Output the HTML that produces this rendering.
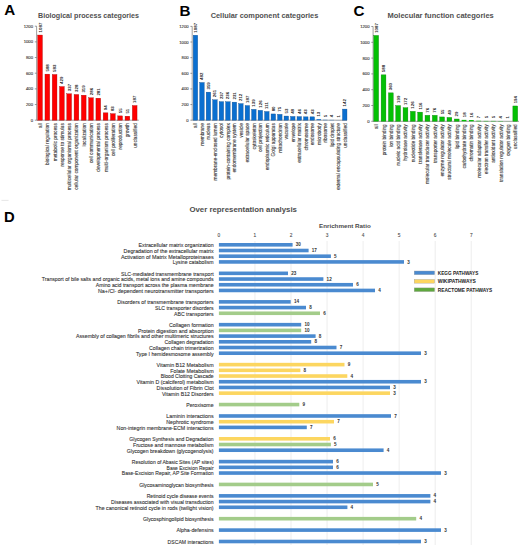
<!DOCTYPE html>
<html><head><meta charset="utf-8"><style>
html,body{margin:0;padding:0;background:#fff;width:523px;height:550px;overflow:hidden}
svg{display:block;font-family:"Liberation Sans", sans-serif}
</style></head><body>
<svg width="523" height="550" viewBox="0 0 523 550">
<rect width="523" height="550" fill="#fff"/>
<text x="4.20" y="15.40" font-size="15.2" fill="#000" font-weight="bold" text-anchor="start" >A</text>
<text x="38.00" y="18.20" font-size="8.0" fill="#505050" font-weight="bold" text-anchor="start" textLength="101.0" lengthAdjust="spacingAndGlyphs">Biological process categories</text>
<line x1="36.60" y1="26.20" x2="36.60" y2="120.20" stroke="#777" stroke-width="0.7"/>
<line x1="36.60" y1="120.20" x2="138.80" y2="120.20" stroke="#777" stroke-width="0.7"/>
<line x1="34.80" y1="120.20" x2="36.60" y2="120.20" stroke="#555" stroke-width="0.6"/>
<text x="33.00" y="121.70" font-size="4.2" fill="#333" font-weight="normal" text-anchor="end" stroke="#333" stroke-width="0.1">0</text>
<line x1="34.80" y1="104.53" x2="36.60" y2="104.53" stroke="#555" stroke-width="0.6"/>
<text x="33.00" y="106.03" font-size="4.2" fill="#333" font-weight="normal" text-anchor="end" stroke="#333" stroke-width="0.1">200</text>
<line x1="34.80" y1="88.87" x2="36.60" y2="88.87" stroke="#555" stroke-width="0.6"/>
<text x="33.00" y="90.37" font-size="4.2" fill="#333" font-weight="normal" text-anchor="end" stroke="#333" stroke-width="0.1">400</text>
<line x1="34.80" y1="73.20" x2="36.60" y2="73.20" stroke="#555" stroke-width="0.6"/>
<text x="33.00" y="74.70" font-size="4.2" fill="#333" font-weight="normal" text-anchor="end" stroke="#333" stroke-width="0.1">600</text>
<line x1="34.80" y1="57.53" x2="36.60" y2="57.53" stroke="#555" stroke-width="0.6"/>
<text x="33.00" y="59.03" font-size="4.2" fill="#333" font-weight="normal" text-anchor="end" stroke="#333" stroke-width="0.1">800</text>
<line x1="34.80" y1="41.87" x2="36.60" y2="41.87" stroke="#555" stroke-width="0.6"/>
<text x="33.00" y="43.37" font-size="4.2" fill="#333" font-weight="normal" text-anchor="end" stroke="#333" stroke-width="0.1">1000</text>
<line x1="34.80" y1="26.20" x2="36.60" y2="26.20" stroke="#555" stroke-width="0.6"/>
<text x="33.00" y="27.70" font-size="4.2" fill="#333" font-weight="normal" text-anchor="end" stroke="#333" stroke-width="0.1">1200</text>
<rect x="37.70" y="35.05" width="4.70" height="85.15" fill="#ff0000" stroke="#a00000" stroke-width="0.35"/>
<text transform="translate(41.55,32.45) rotate(-90)" font-size="4.4" font-weight="bold" fill="#222" text-anchor="start">1087</text>
<text transform="translate(42.05,123.20) rotate(-90)" font-size="4.73" fill="#3a3a3a" stroke="#3a3a3a" stroke-width="0.12" text-anchor="end">all</text>
<rect x="44.98" y="74.14" width="4.70" height="46.06" fill="#ff0000" stroke="#a00000" stroke-width="0.35"/>
<text transform="translate(48.83,71.54) rotate(-90)" font-size="4.4" font-weight="bold" fill="#222" text-anchor="start">588</text>
<text transform="translate(49.33,123.20) rotate(-90)" font-size="4.73" fill="#3a3a3a" stroke="#3a3a3a" stroke-width="0.12" text-anchor="end">biological regulation</text>
<rect x="52.26" y="74.53" width="4.70" height="45.67" fill="#ff0000" stroke="#a00000" stroke-width="0.35"/>
<text transform="translate(56.11,71.93) rotate(-90)" font-size="4.4" font-weight="bold" fill="#222" text-anchor="start">583</text>
<text transform="translate(56.61,123.20) rotate(-90)" font-size="4.73" fill="#3a3a3a" stroke="#3a3a3a" stroke-width="0.12" text-anchor="end">metabolic process</text>
<rect x="59.54" y="86.59" width="4.70" height="33.61" fill="#ff0000" stroke="#a00000" stroke-width="0.35"/>
<text transform="translate(63.39,84.00) rotate(-90)" font-size="4.4" font-weight="bold" fill="#222" text-anchor="start">429</text>
<text transform="translate(63.89,123.20) rotate(-90)" font-size="4.73" fill="#3a3a3a" stroke="#3a3a3a" stroke-width="0.12" text-anchor="end">response to stimulus</text>
<rect x="66.82" y="93.80" width="4.70" height="26.40" fill="#ff0000" stroke="#a00000" stroke-width="0.35"/>
<text transform="translate(70.67,91.20) rotate(-90)" font-size="4.4" font-weight="bold" fill="#222" text-anchor="start">337</text>
<text transform="translate(71.17,123.20) rotate(-90)" font-size="4.73" fill="#3a3a3a" stroke="#3a3a3a" stroke-width="0.12" text-anchor="end">multicellular organismal process</text>
<rect x="74.10" y="94.51" width="4.70" height="25.69" fill="#ff0000" stroke="#a00000" stroke-width="0.35"/>
<text transform="translate(77.95,91.91) rotate(-90)" font-size="4.4" font-weight="bold" fill="#222" text-anchor="start">328</text>
<text transform="translate(78.45,123.20) rotate(-90)" font-size="4.73" fill="#3a3a3a" stroke="#3a3a3a" stroke-width="0.12" text-anchor="end">cellular component organization</text>
<rect x="81.38" y="95.21" width="4.70" height="24.99" fill="#ff0000" stroke="#a00000" stroke-width="0.35"/>
<text transform="translate(85.23,92.61) rotate(-90)" font-size="4.4" font-weight="bold" fill="#222" text-anchor="start">319</text>
<text transform="translate(85.73,123.20) rotate(-90)" font-size="4.73" fill="#3a3a3a" stroke="#3a3a3a" stroke-width="0.12" text-anchor="end">localization</text>
<rect x="88.66" y="97.80" width="4.70" height="22.40" fill="#ff0000" stroke="#a00000" stroke-width="0.35"/>
<text transform="translate(92.51,95.20) rotate(-90)" font-size="4.4" font-weight="bold" fill="#222" text-anchor="start">286</text>
<text transform="translate(93.01,123.20) rotate(-90)" font-size="4.73" fill="#3a3a3a" stroke="#3a3a3a" stroke-width="0.12" text-anchor="end">cell communication</text>
<rect x="95.94" y="98.19" width="4.70" height="22.01" fill="#ff0000" stroke="#a00000" stroke-width="0.35"/>
<text transform="translate(99.79,95.59) rotate(-90)" font-size="4.4" font-weight="bold" fill="#222" text-anchor="start">281</text>
<text transform="translate(100.29,123.20) rotate(-90)" font-size="4.73" fill="#3a3a3a" stroke="#3a3a3a" stroke-width="0.12" text-anchor="end">developmental process</text>
<rect x="103.22" y="112.84" width="4.70" height="7.36" fill="#ff0000" stroke="#a00000" stroke-width="0.35"/>
<text transform="translate(107.07,110.24) rotate(-90)" font-size="4.4" font-weight="bold" fill="#222" text-anchor="start">94</text>
<text transform="translate(107.57,123.20) rotate(-90)" font-size="4.73" fill="#3a3a3a" stroke="#3a3a3a" stroke-width="0.12" text-anchor="end">multi-organism process</text>
<rect x="110.50" y="113.70" width="4.70" height="6.50" fill="#ff0000" stroke="#a00000" stroke-width="0.35"/>
<text transform="translate(114.35,111.10) rotate(-90)" font-size="4.4" font-weight="bold" fill="#222" text-anchor="start">83</text>
<text transform="translate(114.85,123.20) rotate(-90)" font-size="4.73" fill="#3a3a3a" stroke="#3a3a3a" stroke-width="0.12" text-anchor="end">cell proliferation</text>
<rect x="117.78" y="115.89" width="4.70" height="4.31" fill="#ff0000" stroke="#a00000" stroke-width="0.35"/>
<text transform="translate(121.63,113.29) rotate(-90)" font-size="4.4" font-weight="bold" fill="#222" text-anchor="start">55</text>
<text transform="translate(122.13,123.20) rotate(-90)" font-size="4.73" fill="#3a3a3a" stroke="#3a3a3a" stroke-width="0.12" text-anchor="end">reproduction</text>
<rect x="125.06" y="116.20" width="4.70" height="4.00" fill="#ff0000" stroke="#a00000" stroke-width="0.35"/>
<text transform="translate(128.91,113.61) rotate(-90)" font-size="4.4" font-weight="bold" fill="#222" text-anchor="start">51</text>
<text transform="translate(129.41,123.20) rotate(-90)" font-size="4.73" fill="#3a3a3a" stroke="#3a3a3a" stroke-width="0.12" text-anchor="end">growth</text>
<rect x="132.34" y="105.55" width="4.70" height="14.65" fill="#ff0000" stroke="#a00000" stroke-width="0.35"/>
<text transform="translate(136.19,102.95) rotate(-90)" font-size="4.4" font-weight="bold" fill="#222" text-anchor="start">187</text>
<text transform="translate(136.69,123.20) rotate(-90)" font-size="4.73" fill="#3a3a3a" stroke="#3a3a3a" stroke-width="0.12" text-anchor="end">unclassified</text>
<text x="179.60" y="15.60" font-size="15.2" fill="#000" font-weight="bold" text-anchor="start" >B</text>
<text x="210.70" y="18.20" font-size="8.0" fill="#505050" font-weight="bold" text-anchor="start" textLength="107.6" lengthAdjust="spacingAndGlyphs">Cellular component categories</text>
<line x1="192.20" y1="26.40" x2="192.20" y2="120.20" stroke="#777" stroke-width="0.7"/>
<line x1="192.20" y1="120.20" x2="347.00" y2="120.20" stroke="#777" stroke-width="0.7"/>
<line x1="190.40" y1="120.20" x2="192.20" y2="120.20" stroke="#555" stroke-width="0.6"/>
<text x="188.60" y="121.70" font-size="4.2" fill="#333" font-weight="normal" text-anchor="end" stroke="#333" stroke-width="0.1">0</text>
<line x1="190.40" y1="104.57" x2="192.20" y2="104.57" stroke="#555" stroke-width="0.6"/>
<text x="188.60" y="106.07" font-size="4.2" fill="#333" font-weight="normal" text-anchor="end" stroke="#333" stroke-width="0.1">200</text>
<line x1="190.40" y1="88.93" x2="192.20" y2="88.93" stroke="#555" stroke-width="0.6"/>
<text x="188.60" y="90.43" font-size="4.2" fill="#333" font-weight="normal" text-anchor="end" stroke="#333" stroke-width="0.1">400</text>
<line x1="190.40" y1="73.30" x2="192.20" y2="73.30" stroke="#555" stroke-width="0.6"/>
<text x="188.60" y="74.80" font-size="4.2" fill="#333" font-weight="normal" text-anchor="end" stroke="#333" stroke-width="0.1">600</text>
<line x1="190.40" y1="57.67" x2="192.20" y2="57.67" stroke="#555" stroke-width="0.6"/>
<text x="188.60" y="59.17" font-size="4.2" fill="#333" font-weight="normal" text-anchor="end" stroke="#333" stroke-width="0.1">800</text>
<line x1="190.40" y1="42.03" x2="192.20" y2="42.03" stroke="#555" stroke-width="0.6"/>
<text x="188.60" y="43.53" font-size="4.2" fill="#333" font-weight="normal" text-anchor="end" stroke="#333" stroke-width="0.1">1000</text>
<line x1="190.40" y1="26.40" x2="192.20" y2="26.40" stroke="#555" stroke-width="0.6"/>
<text x="188.60" y="27.90" font-size="4.2" fill="#333" font-weight="normal" text-anchor="end" stroke="#333" stroke-width="0.1">1200</text>
<rect x="193.20" y="35.23" width="4.50" height="84.97" fill="#0a6fd0" stroke="#0c4a8a" stroke-width="0.35"/>
<text transform="translate(196.95,32.63) rotate(-90)" font-size="4.4" font-weight="bold" fill="#222" text-anchor="start">1087</text>
<text transform="translate(197.45,123.20) rotate(-90)" font-size="4.73" fill="#3a3a3a" stroke="#3a3a3a" stroke-width="0.12" text-anchor="end">all</text>
<rect x="199.69" y="82.52" width="4.50" height="37.68" fill="#0a6fd0" stroke="#0c4a8a" stroke-width="0.35"/>
<text transform="translate(203.44,79.92) rotate(-90)" font-size="4.4" font-weight="bold" fill="#222" text-anchor="start">482</text>
<text transform="translate(203.94,123.20) rotate(-90)" font-size="4.73" fill="#3a3a3a" stroke="#3a3a3a" stroke-width="0.12" text-anchor="end">membrane</text>
<rect x="206.18" y="92.14" width="4.50" height="28.06" fill="#0a6fd0" stroke="#0c4a8a" stroke-width="0.35"/>
<text transform="translate(209.93,89.54) rotate(-90)" font-size="4.4" font-weight="bold" fill="#222" text-anchor="start">359</text>
<text transform="translate(210.43,123.20) rotate(-90)" font-size="4.73" fill="#3a3a3a" stroke="#3a3a3a" stroke-width="0.12" text-anchor="end">nucleus</text>
<rect x="212.67" y="99.80" width="4.50" height="20.40" fill="#0a6fd0" stroke="#0c4a8a" stroke-width="0.35"/>
<text transform="translate(216.42,97.20) rotate(-90)" font-size="4.4" font-weight="bold" fill="#222" text-anchor="start">261</text>
<text transform="translate(216.92,123.20) rotate(-90)" font-size="4.73" fill="#3a3a3a" stroke="#3a3a3a" stroke-width="0.12" text-anchor="end">membrane-enclosed lumen</text>
<rect x="219.16" y="101.67" width="4.50" height="18.53" fill="#0a6fd0" stroke="#0c4a8a" stroke-width="0.35"/>
<text transform="translate(222.91,99.07) rotate(-90)" font-size="4.4" font-weight="bold" fill="#222" text-anchor="start">237</text>
<text transform="translate(223.41,123.20) rotate(-90)" font-size="4.73" fill="#3a3a3a" stroke="#3a3a3a" stroke-width="0.12" text-anchor="end">cytosol</text>
<rect x="225.65" y="101.75" width="4.50" height="18.45" fill="#0a6fd0" stroke="#0c4a8a" stroke-width="0.35"/>
<text transform="translate(229.40,99.15) rotate(-90)" font-size="4.4" font-weight="bold" fill="#222" text-anchor="start">236</text>
<text transform="translate(229.90,123.20) rotate(-90)" font-size="4.73" fill="#3a3a3a" stroke="#3a3a3a" stroke-width="0.12" text-anchor="end">protein-containing complex</text>
<rect x="232.14" y="102.14" width="4.50" height="18.06" fill="#0a6fd0" stroke="#0c4a8a" stroke-width="0.35"/>
<text transform="translate(235.89,99.54) rotate(-90)" font-size="4.4" font-weight="bold" fill="#222" text-anchor="start">231</text>
<text transform="translate(236.39,123.20) rotate(-90)" font-size="4.73" fill="#3a3a3a" stroke="#3a3a3a" stroke-width="0.12" text-anchor="end">endomembrane system</text>
<rect x="238.63" y="103.63" width="4.50" height="16.57" fill="#0a6fd0" stroke="#0c4a8a" stroke-width="0.35"/>
<text transform="translate(242.38,101.03) rotate(-90)" font-size="4.4" font-weight="bold" fill="#222" text-anchor="start">212</text>
<text transform="translate(242.88,123.20) rotate(-90)" font-size="4.73" fill="#3a3a3a" stroke="#3a3a3a" stroke-width="0.12" text-anchor="end">vesicle</text>
<rect x="245.12" y="105.58" width="4.50" height="14.62" fill="#0a6fd0" stroke="#0c4a8a" stroke-width="0.35"/>
<text transform="translate(248.87,102.98) rotate(-90)" font-size="4.4" font-weight="bold" fill="#222" text-anchor="start">187</text>
<text transform="translate(249.37,123.20) rotate(-90)" font-size="4.73" fill="#3a3a3a" stroke="#3a3a3a" stroke-width="0.12" text-anchor="end">extracellular space</text>
<rect x="251.61" y="109.33" width="4.50" height="10.87" fill="#0a6fd0" stroke="#0c4a8a" stroke-width="0.35"/>
<text transform="translate(255.36,106.73) rotate(-90)" font-size="4.4" font-weight="bold" fill="#222" text-anchor="start">139</text>
<text transform="translate(255.86,123.20) rotate(-90)" font-size="4.73" fill="#3a3a3a" stroke="#3a3a3a" stroke-width="0.12" text-anchor="end">cytoskeleton</text>
<rect x="258.10" y="110.35" width="4.50" height="9.85" fill="#0a6fd0" stroke="#0c4a8a" stroke-width="0.35"/>
<text transform="translate(261.85,107.75) rotate(-90)" font-size="4.4" font-weight="bold" fill="#222" text-anchor="start">126</text>
<text transform="translate(262.35,123.20) rotate(-90)" font-size="4.73" fill="#3a3a3a" stroke="#3a3a3a" stroke-width="0.12" text-anchor="end">cell projection</text>
<rect x="264.59" y="111.52" width="4.50" height="8.68" fill="#0a6fd0" stroke="#0c4a8a" stroke-width="0.35"/>
<text transform="translate(268.34,108.92) rotate(-90)" font-size="4.4" font-weight="bold" fill="#222" text-anchor="start">111</text>
<text transform="translate(268.84,123.20) rotate(-90)" font-size="4.73" fill="#3a3a3a" stroke="#3a3a3a" stroke-width="0.12" text-anchor="end">endoplasmic reticulum</text>
<rect x="271.08" y="113.95" width="4.50" height="6.25" fill="#0a6fd0" stroke="#0c4a8a" stroke-width="0.35"/>
<text transform="translate(274.83,111.35) rotate(-90)" font-size="4.4" font-weight="bold" fill="#222" text-anchor="start">80</text>
<text transform="translate(275.33,123.20) rotate(-90)" font-size="4.73" fill="#3a3a3a" stroke="#3a3a3a" stroke-width="0.12" text-anchor="end">Golgi apparatus</text>
<rect x="277.57" y="114.34" width="4.50" height="5.86" fill="#0a6fd0" stroke="#0c4a8a" stroke-width="0.35"/>
<text transform="translate(281.32,111.74) rotate(-90)" font-size="4.4" font-weight="bold" fill="#222" text-anchor="start">75</text>
<text transform="translate(281.82,123.20) rotate(-90)" font-size="4.73" fill="#3a3a3a" stroke="#3a3a3a" stroke-width="0.12" text-anchor="end">mitochondrion</text>
<rect x="284.06" y="116.06" width="4.50" height="4.14" fill="#0a6fd0" stroke="#0c4a8a" stroke-width="0.35"/>
<text transform="translate(287.81,113.46) rotate(-90)" font-size="4.4" font-weight="bold" fill="#222" text-anchor="start">53</text>
<text transform="translate(288.31,123.20) rotate(-90)" font-size="4.73" fill="#3a3a3a" stroke="#3a3a3a" stroke-width="0.12" text-anchor="end">vacuole</text>
<rect x="290.55" y="116.45" width="4.50" height="3.75" fill="#0a6fd0" stroke="#0c4a8a" stroke-width="0.35"/>
<text transform="translate(294.30,113.85) rotate(-90)" font-size="4.4" font-weight="bold" fill="#222" text-anchor="start">48</text>
<text transform="translate(294.80,123.20) rotate(-90)" font-size="4.73" fill="#3a3a3a" stroke="#3a3a3a" stroke-width="0.12" text-anchor="end">envelope</text>
<rect x="297.04" y="116.60" width="4.50" height="3.60" fill="#0a6fd0" stroke="#0c4a8a" stroke-width="0.35"/>
<text transform="translate(300.79,114.00) rotate(-90)" font-size="4.4" font-weight="bold" fill="#222" text-anchor="start">46</text>
<text transform="translate(301.29,123.20) rotate(-90)" font-size="4.73" fill="#3a3a3a" stroke="#3a3a3a" stroke-width="0.12" text-anchor="end">extracellular matrix</text>
<rect x="303.53" y="116.84" width="4.50" height="3.36" fill="#0a6fd0" stroke="#0c4a8a" stroke-width="0.35"/>
<text transform="translate(307.28,114.24) rotate(-90)" font-size="4.4" font-weight="bold" fill="#222" text-anchor="start">43</text>
<text transform="translate(307.78,123.20) rotate(-90)" font-size="4.73" fill="#3a3a3a" stroke="#3a3a3a" stroke-width="0.12" text-anchor="end">chromosome</text>
<rect x="310.02" y="116.84" width="4.50" height="3.36" fill="#0a6fd0" stroke="#0c4a8a" stroke-width="0.35"/>
<text transform="translate(313.77,114.24) rotate(-90)" font-size="4.4" font-weight="bold" fill="#222" text-anchor="start">43</text>
<text transform="translate(314.27,123.20) rotate(-90)" font-size="4.73" fill="#3a3a3a" stroke="#3a3a3a" stroke-width="0.12" text-anchor="end">endosome</text>
<rect x="316.51" y="119.18" width="4.50" height="1.02" fill="#0a6fd0" stroke="#0c4a8a" stroke-width="0"/>
<text transform="translate(320.26,116.58) rotate(-90)" font-size="4.4" font-weight="bold" fill="#222" text-anchor="start">13</text>
<text transform="translate(320.76,123.20) rotate(-90)" font-size="4.73" fill="#3a3a3a" stroke="#3a3a3a" stroke-width="0.12" text-anchor="end">microbody</text>
<rect x="323.00" y="119.81" width="4.50" height="0.39" fill="#0a6fd0" stroke="#0c4a8a" stroke-width="0"/>
<text transform="translate(326.75,117.21) rotate(-90)" font-size="4.4" font-weight="bold" fill="#222" text-anchor="start">5</text>
<text transform="translate(327.25,123.20) rotate(-90)" font-size="4.73" fill="#3a3a3a" stroke="#3a3a3a" stroke-width="0.12" text-anchor="end">ribosome</text>
<rect x="329.49" y="119.89" width="4.50" height="0.31" fill="#0a6fd0" stroke="#0c4a8a" stroke-width="0"/>
<text transform="translate(333.24,117.29) rotate(-90)" font-size="4.4" font-weight="bold" fill="#222" text-anchor="start">4</text>
<text transform="translate(333.74,123.20) rotate(-90)" font-size="4.73" fill="#3a3a3a" stroke="#3a3a3a" stroke-width="0.12" text-anchor="end">lipid droplet</text>
<rect x="335.98" y="120.12" width="4.50" height="0.08" fill="#0a6fd0" stroke="#0c4a8a" stroke-width="0"/>
<text transform="translate(339.73,117.52) rotate(-90)" font-size="4.4" font-weight="bold" fill="#222" text-anchor="start">1</text>
<text transform="translate(340.23,123.20) rotate(-90)" font-size="4.73" fill="#3a3a3a" stroke="#3a3a3a" stroke-width="0.12" text-anchor="end">external encapsulating structure</text>
<rect x="342.47" y="109.10" width="4.50" height="11.10" fill="#0a6fd0" stroke="#0c4a8a" stroke-width="0.35"/>
<text transform="translate(346.22,106.50) rotate(-90)" font-size="4.4" font-weight="bold" fill="#222" text-anchor="start">142</text>
<text transform="translate(346.72,123.20) rotate(-90)" font-size="4.73" fill="#3a3a3a" stroke="#3a3a3a" stroke-width="0.12" text-anchor="end">unclassified</text>
<text x="353.40" y="16.00" font-size="15.2" fill="#000" font-weight="bold" text-anchor="start" >C</text>
<text x="387.50" y="18.20" font-size="8.0" fill="#505050" font-weight="bold" text-anchor="start" textLength="106.3" lengthAdjust="spacingAndGlyphs">Molecular function categories</text>
<line x1="373.10" y1="26.50" x2="373.10" y2="121.30" stroke="#777" stroke-width="0.7"/>
<line x1="373.10" y1="121.30" x2="519.00" y2="121.30" stroke="#777" stroke-width="0.7"/>
<line x1="371.30" y1="121.30" x2="373.10" y2="121.30" stroke="#555" stroke-width="0.6"/>
<text x="369.50" y="122.80" font-size="4.2" fill="#333" font-weight="normal" text-anchor="end" stroke="#333" stroke-width="0.1">0</text>
<line x1="371.30" y1="105.50" x2="373.10" y2="105.50" stroke="#555" stroke-width="0.6"/>
<text x="369.50" y="107.00" font-size="4.2" fill="#333" font-weight="normal" text-anchor="end" stroke="#333" stroke-width="0.1">200</text>
<line x1="371.30" y1="89.70" x2="373.10" y2="89.70" stroke="#555" stroke-width="0.6"/>
<text x="369.50" y="91.20" font-size="4.2" fill="#333" font-weight="normal" text-anchor="end" stroke="#333" stroke-width="0.1">400</text>
<line x1="371.30" y1="73.90" x2="373.10" y2="73.90" stroke="#555" stroke-width="0.6"/>
<text x="369.50" y="75.40" font-size="4.2" fill="#333" font-weight="normal" text-anchor="end" stroke="#333" stroke-width="0.1">600</text>
<line x1="371.30" y1="58.10" x2="373.10" y2="58.10" stroke="#555" stroke-width="0.6"/>
<text x="369.50" y="59.60" font-size="4.2" fill="#333" font-weight="normal" text-anchor="end" stroke="#333" stroke-width="0.1">800</text>
<line x1="371.30" y1="42.30" x2="373.10" y2="42.30" stroke="#555" stroke-width="0.6"/>
<text x="369.50" y="43.80" font-size="4.2" fill="#333" font-weight="normal" text-anchor="end" stroke="#333" stroke-width="0.1">1000</text>
<line x1="371.30" y1="26.50" x2="373.10" y2="26.50" stroke="#555" stroke-width="0.6"/>
<text x="369.50" y="28.00" font-size="4.2" fill="#333" font-weight="normal" text-anchor="end" stroke="#333" stroke-width="0.1">1200</text>
<rect x="373.80" y="35.43" width="4.80" height="85.87" fill="#04c004" stroke="#067a06" stroke-width="0.35"/>
<text transform="translate(377.70,32.83) rotate(-90)" font-size="4.4" font-weight="bold" fill="#222" text-anchor="start">1087</text>
<text transform="translate(378.20,124.30) rotate(-90)" font-size="4.73" fill="#3a3a3a" stroke="#3a3a3a" stroke-width="0.12" text-anchor="end">all</text>
<rect x="381.12" y="74.85" width="4.80" height="46.45" fill="#04c004" stroke="#067a06" stroke-width="0.35"/>
<text transform="translate(385.02,72.25) rotate(-90)" font-size="4.4" font-weight="bold" fill="#222" text-anchor="start">588</text>
<text transform="translate(385.52,124.30) rotate(-90)" font-size="4.73" fill="#3a3a3a" stroke="#3a3a3a" stroke-width="0.12" text-anchor="end">protein binding</text>
<rect x="388.44" y="92.86" width="4.80" height="28.44" fill="#04c004" stroke="#067a06" stroke-width="0.35"/>
<text transform="translate(392.34,90.26) rotate(-90)" font-size="4.4" font-weight="bold" fill="#222" text-anchor="start">360</text>
<text transform="translate(392.84,124.30) rotate(-90)" font-size="4.73" fill="#3a3a3a" stroke="#3a3a3a" stroke-width="0.12" text-anchor="end">ion binding</text>
<rect x="395.76" y="105.58" width="4.80" height="15.72" fill="#04c004" stroke="#067a06" stroke-width="0.35"/>
<text transform="translate(399.66,102.98) rotate(-90)" font-size="4.4" font-weight="bold" fill="#222" text-anchor="start">199</text>
<text transform="translate(400.16,124.30) rotate(-90)" font-size="4.73" fill="#3a3a3a" stroke="#3a3a3a" stroke-width="0.12" text-anchor="end">nucleic acid binding</text>
<rect x="403.08" y="107.71" width="4.80" height="13.59" fill="#04c004" stroke="#067a06" stroke-width="0.35"/>
<text transform="translate(406.98,105.11) rotate(-90)" font-size="4.4" font-weight="bold" fill="#222" text-anchor="start">172</text>
<text transform="translate(407.48,124.30) rotate(-90)" font-size="4.73" fill="#3a3a3a" stroke="#3a3a3a" stroke-width="0.12" text-anchor="end">hydrolase activity</text>
<rect x="410.40" y="111.35" width="4.80" height="9.95" fill="#04c004" stroke="#067a06" stroke-width="0.35"/>
<text transform="translate(414.30,108.75) rotate(-90)" font-size="4.4" font-weight="bold" fill="#222" text-anchor="start">126</text>
<text transform="translate(414.80,124.30) rotate(-90)" font-size="4.73" fill="#3a3a3a" stroke="#3a3a3a" stroke-width="0.12" text-anchor="end">nucleotide binding</text>
<rect x="417.72" y="112.14" width="4.80" height="9.16" fill="#04c004" stroke="#067a06" stroke-width="0.35"/>
<text transform="translate(421.62,109.54) rotate(-90)" font-size="4.4" font-weight="bold" fill="#222" text-anchor="start">116</text>
<text transform="translate(422.12,124.30) rotate(-90)" font-size="4.73" fill="#3a3a3a" stroke="#3a3a3a" stroke-width="0.12" text-anchor="end">transferase activity</text>
<rect x="425.04" y="115.30" width="4.80" height="6.00" fill="#04c004" stroke="#067a06" stroke-width="0.35"/>
<text transform="translate(428.94,112.70) rotate(-90)" font-size="4.4" font-weight="bold" fill="#222" text-anchor="start">76</text>
<text transform="translate(429.44,124.30) rotate(-90)" font-size="4.73" fill="#3a3a3a" stroke="#3a3a3a" stroke-width="0.12" text-anchor="end">molecular transducer activity</text>
<rect x="432.36" y="115.30" width="4.80" height="6.00" fill="#04c004" stroke="#067a06" stroke-width="0.35"/>
<text transform="translate(436.26,112.70) rotate(-90)" font-size="4.4" font-weight="bold" fill="#222" text-anchor="start">76</text>
<text transform="translate(436.76,124.30) rotate(-90)" font-size="4.73" fill="#3a3a3a" stroke="#3a3a3a" stroke-width="0.12" text-anchor="end">transporter activity</text>
<rect x="439.68" y="116.95" width="4.80" height="4.34" fill="#04c004" stroke="#067a06" stroke-width="0.35"/>
<text transform="translate(443.58,114.36) rotate(-90)" font-size="4.4" font-weight="bold" fill="#222" text-anchor="start">55</text>
<text transform="translate(444.08,124.30) rotate(-90)" font-size="4.73" fill="#3a3a3a" stroke="#3a3a3a" stroke-width="0.12" text-anchor="end">enzyme regulator activity</text>
<rect x="447.00" y="117.43" width="4.80" height="3.87" fill="#04c004" stroke="#067a06" stroke-width="0.35"/>
<text transform="translate(450.90,114.83) rotate(-90)" font-size="4.4" font-weight="bold" fill="#222" text-anchor="start">49</text>
<text transform="translate(451.40,124.30) rotate(-90)" font-size="4.73" fill="#3a3a3a" stroke="#3a3a3a" stroke-width="0.12" text-anchor="end">structural molecule activity</text>
<rect x="454.32" y="119.01" width="4.80" height="2.29" fill="#04c004" stroke="#067a06" stroke-width="0.35"/>
<text transform="translate(458.22,116.41) rotate(-90)" font-size="4.4" font-weight="bold" fill="#222" text-anchor="start">29</text>
<text transform="translate(458.72,124.30) rotate(-90)" font-size="4.73" fill="#3a3a3a" stroke="#3a3a3a" stroke-width="0.12" text-anchor="end">lipid binding</text>
<rect x="461.64" y="119.88" width="4.80" height="1.42" fill="#04c004" stroke="#067a06" stroke-width="0"/>
<text transform="translate(465.54,117.28) rotate(-90)" font-size="4.4" font-weight="bold" fill="#222" text-anchor="start">18</text>
<text transform="translate(466.04,124.30) rotate(-90)" font-size="4.73" fill="#3a3a3a" stroke="#3a3a3a" stroke-width="0.12" text-anchor="end">carbohydrate binding</text>
<rect x="468.96" y="120.04" width="4.80" height="1.26" fill="#04c004" stroke="#067a06" stroke-width="0"/>
<text transform="translate(472.86,117.44) rotate(-90)" font-size="4.4" font-weight="bold" fill="#222" text-anchor="start">16</text>
<text transform="translate(473.36,124.30) rotate(-90)" font-size="4.73" fill="#3a3a3a" stroke="#3a3a3a" stroke-width="0.12" text-anchor="end">chromatin binding</text>
<rect x="476.28" y="120.75" width="4.80" height="0.55" fill="#04c004" stroke="#067a06" stroke-width="0"/>
<text transform="translate(480.18,118.15) rotate(-90)" font-size="4.4" font-weight="bold" fill="#222" text-anchor="start">7</text>
<text transform="translate(480.68,124.30) rotate(-90)" font-size="4.73" fill="#3a3a3a" stroke="#3a3a3a" stroke-width="0.12" text-anchor="end">molecular adaptor activity</text>
<rect x="483.60" y="120.91" width="4.80" height="0.40" fill="#04c004" stroke="#067a06" stroke-width="0"/>
<text transform="translate(487.50,118.31) rotate(-90)" font-size="4.4" font-weight="bold" fill="#222" text-anchor="start">5</text>
<text transform="translate(488.00,124.30) rotate(-90)" font-size="4.73" fill="#3a3a3a" stroke="#3a3a3a" stroke-width="0.12" text-anchor="end">electron transfer activity</text>
<rect x="490.92" y="120.91" width="4.80" height="0.40" fill="#04c004" stroke="#067a06" stroke-width="0"/>
<text transform="translate(494.82,118.31) rotate(-90)" font-size="4.4" font-weight="bold" fill="#222" text-anchor="start">5</text>
<text transform="translate(495.32,124.30) rotate(-90)" font-size="4.73" fill="#3a3a3a" stroke="#3a3a3a" stroke-width="0.12" text-anchor="end">antioxidant activity</text>
<rect x="498.24" y="120.98" width="4.80" height="0.32" fill="#04c004" stroke="#067a06" stroke-width="0"/>
<text transform="translate(502.14,118.38) rotate(-90)" font-size="4.4" font-weight="bold" fill="#222" text-anchor="start">4</text>
<text transform="translate(502.64,124.30) rotate(-90)" font-size="4.73" fill="#3a3a3a" stroke="#3a3a3a" stroke-width="0.12" text-anchor="end">translation regulator activity</text>
<rect x="505.56" y="121.22" width="4.80" height="0.08" fill="#04c004" stroke="#067a06" stroke-width="0"/>
<text transform="translate(509.46,118.62) rotate(-90)" font-size="4.4" font-weight="bold" fill="#222" text-anchor="start">1</text>
<text transform="translate(509.96,124.30) rotate(-90)" font-size="4.73" fill="#3a3a3a" stroke="#3a3a3a" stroke-width="0.12" text-anchor="end">oxygen binding</text>
<rect x="512.88" y="105.97" width="4.80" height="15.33" fill="#04c004" stroke="#067a06" stroke-width="0.35"/>
<text transform="translate(516.78,103.37) rotate(-90)" font-size="4.4" font-weight="bold" fill="#222" text-anchor="start">194</text>
<text transform="translate(517.28,124.30) rotate(-90)" font-size="4.73" fill="#3a3a3a" stroke="#3a3a3a" stroke-width="0.12" text-anchor="end">unclassified</text>
<text x="4.00" y="222.20" font-size="14.8" fill="#000" font-weight="bold" text-anchor="start" >D</text>
<text x="189.40" y="211.90" font-size="7.6" fill="#4d4d4d" font-weight="bold" text-anchor="start" textLength="107.6" lengthAdjust="spacingAndGlyphs">Over representation analysis</text>
<text x="319.00" y="228.30" font-size="5.6" fill="#4a4a4a" font-weight="bold" text-anchor="start" textLength="51.7" lengthAdjust="spacingAndGlyphs">Enrichment Ratio</text>
<text x="218.90" y="237.00" font-size="4.8" fill="#505050" font-weight="normal" text-anchor="middle" stroke="#505050" stroke-width="0.1">0</text>
<text x="254.95" y="237.00" font-size="4.8" fill="#505050" font-weight="normal" text-anchor="middle" stroke="#505050" stroke-width="0.1">1</text>
<line x1="254.95" y1="241" x2="254.95" y2="545" stroke="#e0e0e0" stroke-width="0.6"/>
<text x="291.00" y="237.00" font-size="4.8" fill="#505050" font-weight="normal" text-anchor="middle" stroke="#505050" stroke-width="0.1">2</text>
<line x1="291.00" y1="241" x2="291.00" y2="545" stroke="#e0e0e0" stroke-width="0.6"/>
<text x="327.05" y="237.00" font-size="4.8" fill="#505050" font-weight="normal" text-anchor="middle" stroke="#505050" stroke-width="0.1">3</text>
<line x1="327.05" y1="241" x2="327.05" y2="545" stroke="#e0e0e0" stroke-width="0.6"/>
<text x="363.10" y="237.00" font-size="4.8" fill="#505050" font-weight="normal" text-anchor="middle" stroke="#505050" stroke-width="0.1">4</text>
<line x1="363.10" y1="241" x2="363.10" y2="545" stroke="#e0e0e0" stroke-width="0.6"/>
<text x="399.15" y="237.00" font-size="4.8" fill="#505050" font-weight="normal" text-anchor="middle" stroke="#505050" stroke-width="0.1">5</text>
<line x1="399.15" y1="241" x2="399.15" y2="545" stroke="#e0e0e0" stroke-width="0.6"/>
<text x="435.20" y="237.00" font-size="4.8" fill="#505050" font-weight="normal" text-anchor="middle" stroke="#505050" stroke-width="0.1">6</text>
<line x1="435.20" y1="241" x2="435.20" y2="545" stroke="#e0e0e0" stroke-width="0.6"/>
<text x="471.25" y="237.00" font-size="4.8" fill="#505050" font-weight="normal" text-anchor="middle" stroke="#505050" stroke-width="0.1">7</text>
<line x1="471.25" y1="241" x2="471.25" y2="545" stroke="#e0e0e0" stroke-width="0.6"/>
<rect x="218.90" y="243.00" width="73.70" height="3.6" fill="#4a8ad0"/>
<text x="213.60" y="247.15" font-size="5.4" fill="#333" font-weight="normal" text-anchor="end" textLength="75.1" lengthAdjust="spacingAndGlyphs" stroke="#333" stroke-width="0.1">Extracellular matrix organization</text>
<text x="295.80" y="246.40" font-size="4.6" fill="#333" font-weight="bold" text-anchor="start" >30</text>
<rect x="218.90" y="248.71" width="89.70" height="3.6" fill="#4a8ad0"/>
<text x="213.60" y="252.86" font-size="5.4" fill="#333" font-weight="normal" text-anchor="end" textLength="90.0" lengthAdjust="spacingAndGlyphs" stroke="#333" stroke-width="0.1">Degradation of the extracellular matrix</text>
<text x="311.80" y="252.11" font-size="4.6" fill="#333" font-weight="bold" text-anchor="start" >17</text>
<rect x="218.90" y="254.41" width="112.00" height="3.6" fill="#4a8ad0"/>
<text x="213.60" y="258.56" font-size="5.4" fill="#333" font-weight="normal" text-anchor="end" textLength="92.6" lengthAdjust="spacingAndGlyphs" stroke="#333" stroke-width="0.1">Activation of Matrix Metalloproteinases</text>
<text x="334.10" y="257.81" font-size="4.6" fill="#333" font-weight="bold" text-anchor="start" >5</text>
<rect x="218.90" y="260.12" width="185.10" height="3.6" fill="#4a8ad0"/>
<text x="213.60" y="264.27" font-size="5.4" fill="#333" font-weight="normal" text-anchor="end" textLength="40.8" lengthAdjust="spacingAndGlyphs" stroke="#333" stroke-width="0.1">Lysine catabolism</text>
<text x="407.20" y="263.52" font-size="4.6" fill="#333" font-weight="bold" text-anchor="start" >3</text>
<rect x="218.90" y="271.53" width="69.10" height="3.6" fill="#4a8ad0"/>
<text x="213.60" y="275.68" font-size="5.4" fill="#333" font-weight="normal" text-anchor="end" textLength="92.6" lengthAdjust="spacingAndGlyphs" stroke="#333" stroke-width="0.1">SLC-mediated transmembrane transport</text>
<text x="291.20" y="274.93" font-size="4.6" fill="#333" font-weight="bold" text-anchor="start" >23</text>
<rect x="218.90" y="277.24" width="104.50" height="3.6" fill="#4a8ad0"/>
<text x="213.60" y="281.39" font-size="5.4" fill="#333" font-weight="normal" text-anchor="end" textLength="171.8" lengthAdjust="spacingAndGlyphs" stroke="#333" stroke-width="0.1">Transport of bile salts and organic acids, metal ions and amine compounds</text>
<text x="326.60" y="280.64" font-size="4.6" fill="#333" font-weight="bold" text-anchor="start" >12</text>
<rect x="218.90" y="282.94" width="134.10" height="3.6" fill="#4a8ad0"/>
<text x="213.60" y="287.09" font-size="5.4" fill="#333" font-weight="normal" text-anchor="end" textLength="117.9" lengthAdjust="spacingAndGlyphs" stroke="#333" stroke-width="0.1">Amino acid transport across the plasma membrane</text>
<text x="356.20" y="286.34" font-size="4.6" fill="#333" font-weight="bold" text-anchor="start" >6</text>
<rect x="218.90" y="288.65" width="156.10" height="3.6" fill="#4a8ad0"/>
<text x="213.60" y="292.80" font-size="5.4" fill="#333" font-weight="normal" text-anchor="end" textLength="115.6" lengthAdjust="spacingAndGlyphs" stroke="#333" stroke-width="0.1">Na+/Cl- dependent neurotransmitter transporters</text>
<text x="378.20" y="292.05" font-size="4.6" fill="#333" font-weight="bold" text-anchor="start" >4</text>
<rect x="218.90" y="300.06" width="71.80" height="3.6" fill="#4a8ad0"/>
<text x="213.60" y="304.21" font-size="5.4" fill="#333" font-weight="normal" text-anchor="end" textLength="96.3" lengthAdjust="spacingAndGlyphs" stroke="#333" stroke-width="0.1">Disorders of transmembrane transporters</text>
<text x="293.90" y="303.46" font-size="4.6" fill="#333" font-weight="bold" text-anchor="start" >14</text>
<rect x="218.90" y="305.77" width="87.10" height="3.6" fill="#4a8ad0"/>
<text x="213.60" y="309.92" font-size="5.4" fill="#333" font-weight="normal" text-anchor="end" textLength="58.5" lengthAdjust="spacingAndGlyphs" stroke="#333" stroke-width="0.1">SLC transporter disorders</text>
<text x="309.20" y="309.17" font-size="4.6" fill="#333" font-weight="bold" text-anchor="start" >8</text>
<rect x="218.90" y="311.47" width="101.10" height="3.6" fill="#a3cc8a"/>
<text x="213.60" y="315.62" font-size="5.4" fill="#333" font-weight="normal" text-anchor="end" textLength="39.6" lengthAdjust="spacingAndGlyphs" stroke="#333" stroke-width="0.1">ABC transporters</text>
<text x="323.20" y="314.87" font-size="4.6" fill="#333" font-weight="bold" text-anchor="start" >6</text>
<rect x="218.90" y="322.88" width="82.30" height="3.6" fill="#4a8ad0"/>
<text x="213.60" y="327.03" font-size="5.4" fill="#333" font-weight="normal" text-anchor="end" textLength="44.6" lengthAdjust="spacingAndGlyphs" stroke="#333" stroke-width="0.1">Collagen formation</text>
<text x="304.40" y="326.28" font-size="4.6" fill="#333" font-weight="bold" text-anchor="start" >10</text>
<rect x="218.90" y="328.59" width="82.30" height="3.6" fill="#a3cc8a"/>
<text x="213.60" y="332.74" font-size="5.4" fill="#333" font-weight="normal" text-anchor="end" textLength="75.6" lengthAdjust="spacingAndGlyphs" stroke="#333" stroke-width="0.1">Protein digestion and absorption</text>
<text x="304.40" y="331.99" font-size="4.6" fill="#333" font-weight="bold" text-anchor="start" >10</text>
<rect x="218.90" y="334.30" width="96.70" height="3.6" fill="#4a8ad0"/>
<text x="213.60" y="338.45" font-size="5.4" fill="#333" font-weight="normal" text-anchor="end" textLength="137.7" lengthAdjust="spacingAndGlyphs" stroke="#333" stroke-width="0.1">Assembly of collagen fibrils and other multimeric structures</text>
<text x="318.80" y="337.70" font-size="4.6" fill="#333" font-weight="bold" text-anchor="start" >8</text>
<rect x="218.90" y="340.00" width="92.30" height="3.6" fill="#4a8ad0"/>
<text x="213.60" y="344.15" font-size="5.4" fill="#333" font-weight="normal" text-anchor="end" textLength="49.0" lengthAdjust="spacingAndGlyphs" stroke="#333" stroke-width="0.1">Collagen degradation</text>
<text x="314.40" y="343.40" font-size="4.6" fill="#333" font-weight="bold" text-anchor="start" >8</text>
<rect x="218.90" y="345.71" width="117.60" height="3.6" fill="#4a8ad0"/>
<text x="213.60" y="349.86" font-size="5.4" fill="#333" font-weight="normal" text-anchor="end" textLength="64.6" lengthAdjust="spacingAndGlyphs" stroke="#333" stroke-width="0.1">Collagen chain trimerization</text>
<text x="339.70" y="349.11" font-size="4.6" fill="#333" font-weight="bold" text-anchor="start" >7</text>
<rect x="218.90" y="351.41" width="202.10" height="3.6" fill="#4a8ad0"/>
<text x="213.60" y="355.56" font-size="5.4" fill="#333" font-weight="normal" text-anchor="end" textLength="77.6" lengthAdjust="spacingAndGlyphs" stroke="#333" stroke-width="0.1">Type I hemidesmosome assembly</text>
<text x="424.20" y="354.81" font-size="4.6" fill="#333" font-weight="bold" text-anchor="start" >3</text>
<rect x="218.90" y="362.83" width="125.60" height="3.6" fill="#fcd660"/>
<text x="213.60" y="366.98" font-size="5.4" fill="#333" font-weight="normal" text-anchor="end" textLength="57.0" lengthAdjust="spacingAndGlyphs" stroke="#333" stroke-width="0.1">Vitamin B12 Metabolism</text>
<text x="347.70" y="366.23" font-size="4.6" fill="#333" font-weight="bold" text-anchor="start" >9</text>
<rect x="218.90" y="368.53" width="81.50" height="3.6" fill="#fcd660"/>
<text x="213.60" y="372.68" font-size="5.4" fill="#333" font-weight="normal" text-anchor="end" textLength="43.3" lengthAdjust="spacingAndGlyphs" stroke="#333" stroke-width="0.1">Folate Metabolism</text>
<text x="303.60" y="371.93" font-size="4.6" fill="#333" font-weight="bold" text-anchor="start" >8</text>
<rect x="218.90" y="374.24" width="128.40" height="3.6" fill="#fcd660"/>
<text x="213.60" y="378.39" font-size="5.4" fill="#333" font-weight="normal" text-anchor="end" textLength="52.8" lengthAdjust="spacingAndGlyphs" stroke="#333" stroke-width="0.1">Blood Clotting Cascade</text>
<text x="350.50" y="377.64" font-size="4.6" fill="#333" font-weight="bold" text-anchor="start" >4</text>
<rect x="218.90" y="379.94" width="202.10" height="3.6" fill="#4a8ad0"/>
<text x="213.60" y="384.09" font-size="5.4" fill="#333" font-weight="normal" text-anchor="end" textLength="77.1" lengthAdjust="spacingAndGlyphs" stroke="#333" stroke-width="0.1">Vitamin D (calciferol) metabolism</text>
<text x="424.20" y="383.34" font-size="4.6" fill="#333" font-weight="bold" text-anchor="start" >3</text>
<rect x="218.90" y="385.65" width="171.10" height="3.6" fill="#4a8ad0"/>
<text x="213.60" y="389.80" font-size="5.4" fill="#333" font-weight="normal" text-anchor="end" textLength="57.0" lengthAdjust="spacingAndGlyphs" stroke="#333" stroke-width="0.1">Dissolution of Fibrin Clot</text>
<text x="393.20" y="389.05" font-size="4.6" fill="#333" font-weight="bold" text-anchor="start" >3</text>
<rect x="218.90" y="391.36" width="171.10" height="3.6" fill="#fcd660"/>
<text x="213.60" y="395.51" font-size="5.4" fill="#333" font-weight="normal" text-anchor="end" textLength="51.6" lengthAdjust="spacingAndGlyphs" stroke="#333" stroke-width="0.1">Vitamin B12 Disorders</text>
<text x="393.20" y="394.76" font-size="4.6" fill="#333" font-weight="bold" text-anchor="start" >3</text>
<rect x="218.90" y="402.77" width="80.40" height="3.6" fill="#a3cc8a"/>
<text x="213.60" y="406.92" font-size="5.4" fill="#333" font-weight="normal" text-anchor="end" textLength="27.4" lengthAdjust="spacingAndGlyphs" stroke="#333" stroke-width="0.1">Peroxisome</text>
<text x="302.50" y="406.17" font-size="4.6" fill="#333" font-weight="bold" text-anchor="start" >9</text>
<rect x="218.90" y="414.18" width="172.10" height="3.6" fill="#4a8ad0"/>
<text x="213.60" y="418.33" font-size="5.4" fill="#333" font-weight="normal" text-anchor="end" textLength="47.3" lengthAdjust="spacingAndGlyphs" stroke="#333" stroke-width="0.1">Laminin interactions</text>
<text x="394.20" y="417.58" font-size="4.6" fill="#333" font-weight="bold" text-anchor="start" >7</text>
<rect x="218.90" y="419.89" width="115.10" height="3.6" fill="#fcd660"/>
<text x="213.60" y="424.04" font-size="5.4" fill="#333" font-weight="normal" text-anchor="end" textLength="47.3" lengthAdjust="spacingAndGlyphs" stroke="#333" stroke-width="0.1">Nephrotic syndrome</text>
<text x="337.20" y="423.29" font-size="4.6" fill="#333" font-weight="bold" text-anchor="start" >7</text>
<rect x="218.90" y="425.59" width="87.90" height="3.6" fill="#4a8ad0"/>
<text x="213.60" y="429.74" font-size="5.4" fill="#333" font-weight="normal" text-anchor="end" textLength="97.0" lengthAdjust="spacingAndGlyphs" stroke="#333" stroke-width="0.1">Non-integrin membrane-ECM interactions</text>
<text x="310.00" y="428.99" font-size="4.6" fill="#333" font-weight="bold" text-anchor="start" >7</text>
<rect x="218.90" y="437.00" width="111.10" height="3.6" fill="#fcd660"/>
<text x="213.60" y="441.15" font-size="5.4" fill="#333" font-weight="normal" text-anchor="end" textLength="84.3" lengthAdjust="spacingAndGlyphs" stroke="#333" stroke-width="0.1">Glycogen Synthesis and Degradation</text>
<text x="333.20" y="440.40" font-size="4.6" fill="#333" font-weight="bold" text-anchor="start" >6</text>
<rect x="218.90" y="442.71" width="112.00" height="3.6" fill="#a3cc8a"/>
<text x="213.60" y="446.86" font-size="5.4" fill="#333" font-weight="normal" text-anchor="end" textLength="80.6" lengthAdjust="spacingAndGlyphs" stroke="#333" stroke-width="0.1">Fructose and mannose metabolism</text>
<text x="334.10" y="446.11" font-size="4.6" fill="#333" font-weight="bold" text-anchor="start" >5</text>
<rect x="218.90" y="448.42" width="164.70" height="3.6" fill="#4a8ad0"/>
<text x="213.60" y="452.57" font-size="5.4" fill="#333" font-weight="normal" text-anchor="end" textLength="86.8" lengthAdjust="spacingAndGlyphs" stroke="#333" stroke-width="0.1">Glycogen breakdown (glycogenolysis)</text>
<text x="386.80" y="451.82" font-size="4.6" fill="#333" font-weight="bold" text-anchor="start" >4</text>
<rect x="218.90" y="459.83" width="114.10" height="3.6" fill="#4a8ad0"/>
<text x="213.60" y="463.98" font-size="5.4" fill="#333" font-weight="normal" text-anchor="end" textLength="81.8" lengthAdjust="spacingAndGlyphs" stroke="#333" stroke-width="0.1">Resolution of Abasic Sites (AP sites)</text>
<text x="336.20" y="463.23" font-size="4.6" fill="#333" font-weight="bold" text-anchor="start" >6</text>
<rect x="218.90" y="465.53" width="114.10" height="3.6" fill="#4a8ad0"/>
<text x="213.60" y="469.68" font-size="5.4" fill="#333" font-weight="normal" text-anchor="end" textLength="47.0" lengthAdjust="spacingAndGlyphs" stroke="#333" stroke-width="0.1">Base Excision Repair</text>
<text x="336.20" y="468.93" font-size="4.6" fill="#333" font-weight="bold" text-anchor="start" >6</text>
<rect x="218.90" y="471.24" width="222.10" height="3.6" fill="#4a8ad0"/>
<text x="213.60" y="475.39" font-size="5.4" fill="#333" font-weight="normal" text-anchor="end" textLength="91.8" lengthAdjust="spacingAndGlyphs" stroke="#333" stroke-width="0.1">Base-Excision Repair, AP Site Formation</text>
<text x="444.20" y="474.64" font-size="4.6" fill="#333" font-weight="bold" text-anchor="start" >3</text>
<rect x="218.90" y="482.65" width="154.10" height="3.6" fill="#a3cc8a"/>
<text x="213.60" y="486.80" font-size="5.4" fill="#333" font-weight="normal" text-anchor="end" textLength="74.4" lengthAdjust="spacingAndGlyphs" stroke="#333" stroke-width="0.1">Glycosaminoglycan biosynthesis</text>
<text x="376.20" y="486.05" font-size="4.6" fill="#333" font-weight="bold" text-anchor="start" >5</text>
<rect x="218.90" y="494.06" width="211.50" height="3.6" fill="#4a8ad0"/>
<text x="213.60" y="498.21" font-size="5.4" fill="#333" font-weight="normal" text-anchor="end" textLength="66.9" lengthAdjust="spacingAndGlyphs" stroke="#333" stroke-width="0.1">Retinoid cycle disease events</text>
<text x="433.60" y="497.46" font-size="4.6" fill="#333" font-weight="bold" text-anchor="start" >4</text>
<rect x="218.90" y="499.77" width="211.50" height="3.6" fill="#4a8ad0"/>
<text x="213.60" y="503.92" font-size="5.4" fill="#333" font-weight="normal" text-anchor="end" textLength="102.5" lengthAdjust="spacingAndGlyphs" stroke="#333" stroke-width="0.1">Diseases associated with visual transduction</text>
<text x="433.60" y="503.17" font-size="4.6" fill="#333" font-weight="bold" text-anchor="start" >4</text>
<rect x="218.90" y="505.48" width="128.50" height="3.6" fill="#4a8ad0"/>
<text x="213.60" y="509.63" font-size="5.4" fill="#333" font-weight="normal" text-anchor="end" textLength="118.1" lengthAdjust="spacingAndGlyphs" stroke="#333" stroke-width="0.1">The canonical retinoid cycle in rods (twilight vision)</text>
<text x="350.60" y="508.88" font-size="4.6" fill="#333" font-weight="bold" text-anchor="start" >4</text>
<rect x="218.90" y="516.89" width="197.30" height="3.6" fill="#a3cc8a"/>
<text x="213.60" y="521.04" font-size="5.4" fill="#333" font-weight="normal" text-anchor="end" textLength="70.6" lengthAdjust="spacingAndGlyphs" stroke="#333" stroke-width="0.1">Glycosphingolipid biosynthesis</text>
<text x="419.40" y="520.29" font-size="4.6" fill="#333" font-weight="bold" text-anchor="start" >4</text>
<rect x="218.90" y="528.30" width="222.10" height="3.6" fill="#4a8ad0"/>
<text x="213.60" y="532.45" font-size="5.4" fill="#333" font-weight="normal" text-anchor="end" textLength="37.1" lengthAdjust="spacingAndGlyphs" stroke="#333" stroke-width="0.1">Alpha-defensins</text>
<text x="444.20" y="531.70" font-size="4.6" fill="#333" font-weight="bold" text-anchor="start" >3</text>
<rect x="218.90" y="539.71" width="202.10" height="3.6" fill="#4a8ad0"/>
<text x="213.60" y="543.86" font-size="5.4" fill="#333" font-weight="normal" text-anchor="end" textLength="46.0" lengthAdjust="spacingAndGlyphs" stroke="#333" stroke-width="0.1">DSCAM interactions</text>
<text x="424.20" y="543.11" font-size="4.6" fill="#333" font-weight="bold" text-anchor="start" >3</text>
<rect x="414.2" y="271.00" width="20.4" height="3.7" fill="#4a8ad0" stroke="#9a9a9a" stroke-width="0.35"/>
<rect x="414.2" y="279.45" width="20.4" height="3.7" fill="#fcd660" stroke="#9a9a9a" stroke-width="0.35"/>
<rect x="414.2" y="287.90" width="20.4" height="3.7" fill="#5fa83e" stroke="#9a9a9a" stroke-width="0.35"/>
<text x="437.80" y="274.70" font-size="4.6" fill="#222" font-weight="bold" text-anchor="start" textLength="40.5" lengthAdjust="spacingAndGlyphs">KEGG PATHWAYS</text>
<text x="437.80" y="283.20" font-size="4.6" fill="#222" font-weight="bold" text-anchor="start" textLength="38" lengthAdjust="spacingAndGlyphs">WIKIPATHWAYS</text>
<text x="437.80" y="291.60" font-size="4.6" fill="#222" font-weight="bold" text-anchor="start" textLength="54.4" lengthAdjust="spacingAndGlyphs">REACTOME PATHWAYS</text>
<line x1="1.5" y1="200.4" x2="8.5" y2="200.4" stroke="#e0e0e0" stroke-width="0.8"/>
</svg>
</body></html>
